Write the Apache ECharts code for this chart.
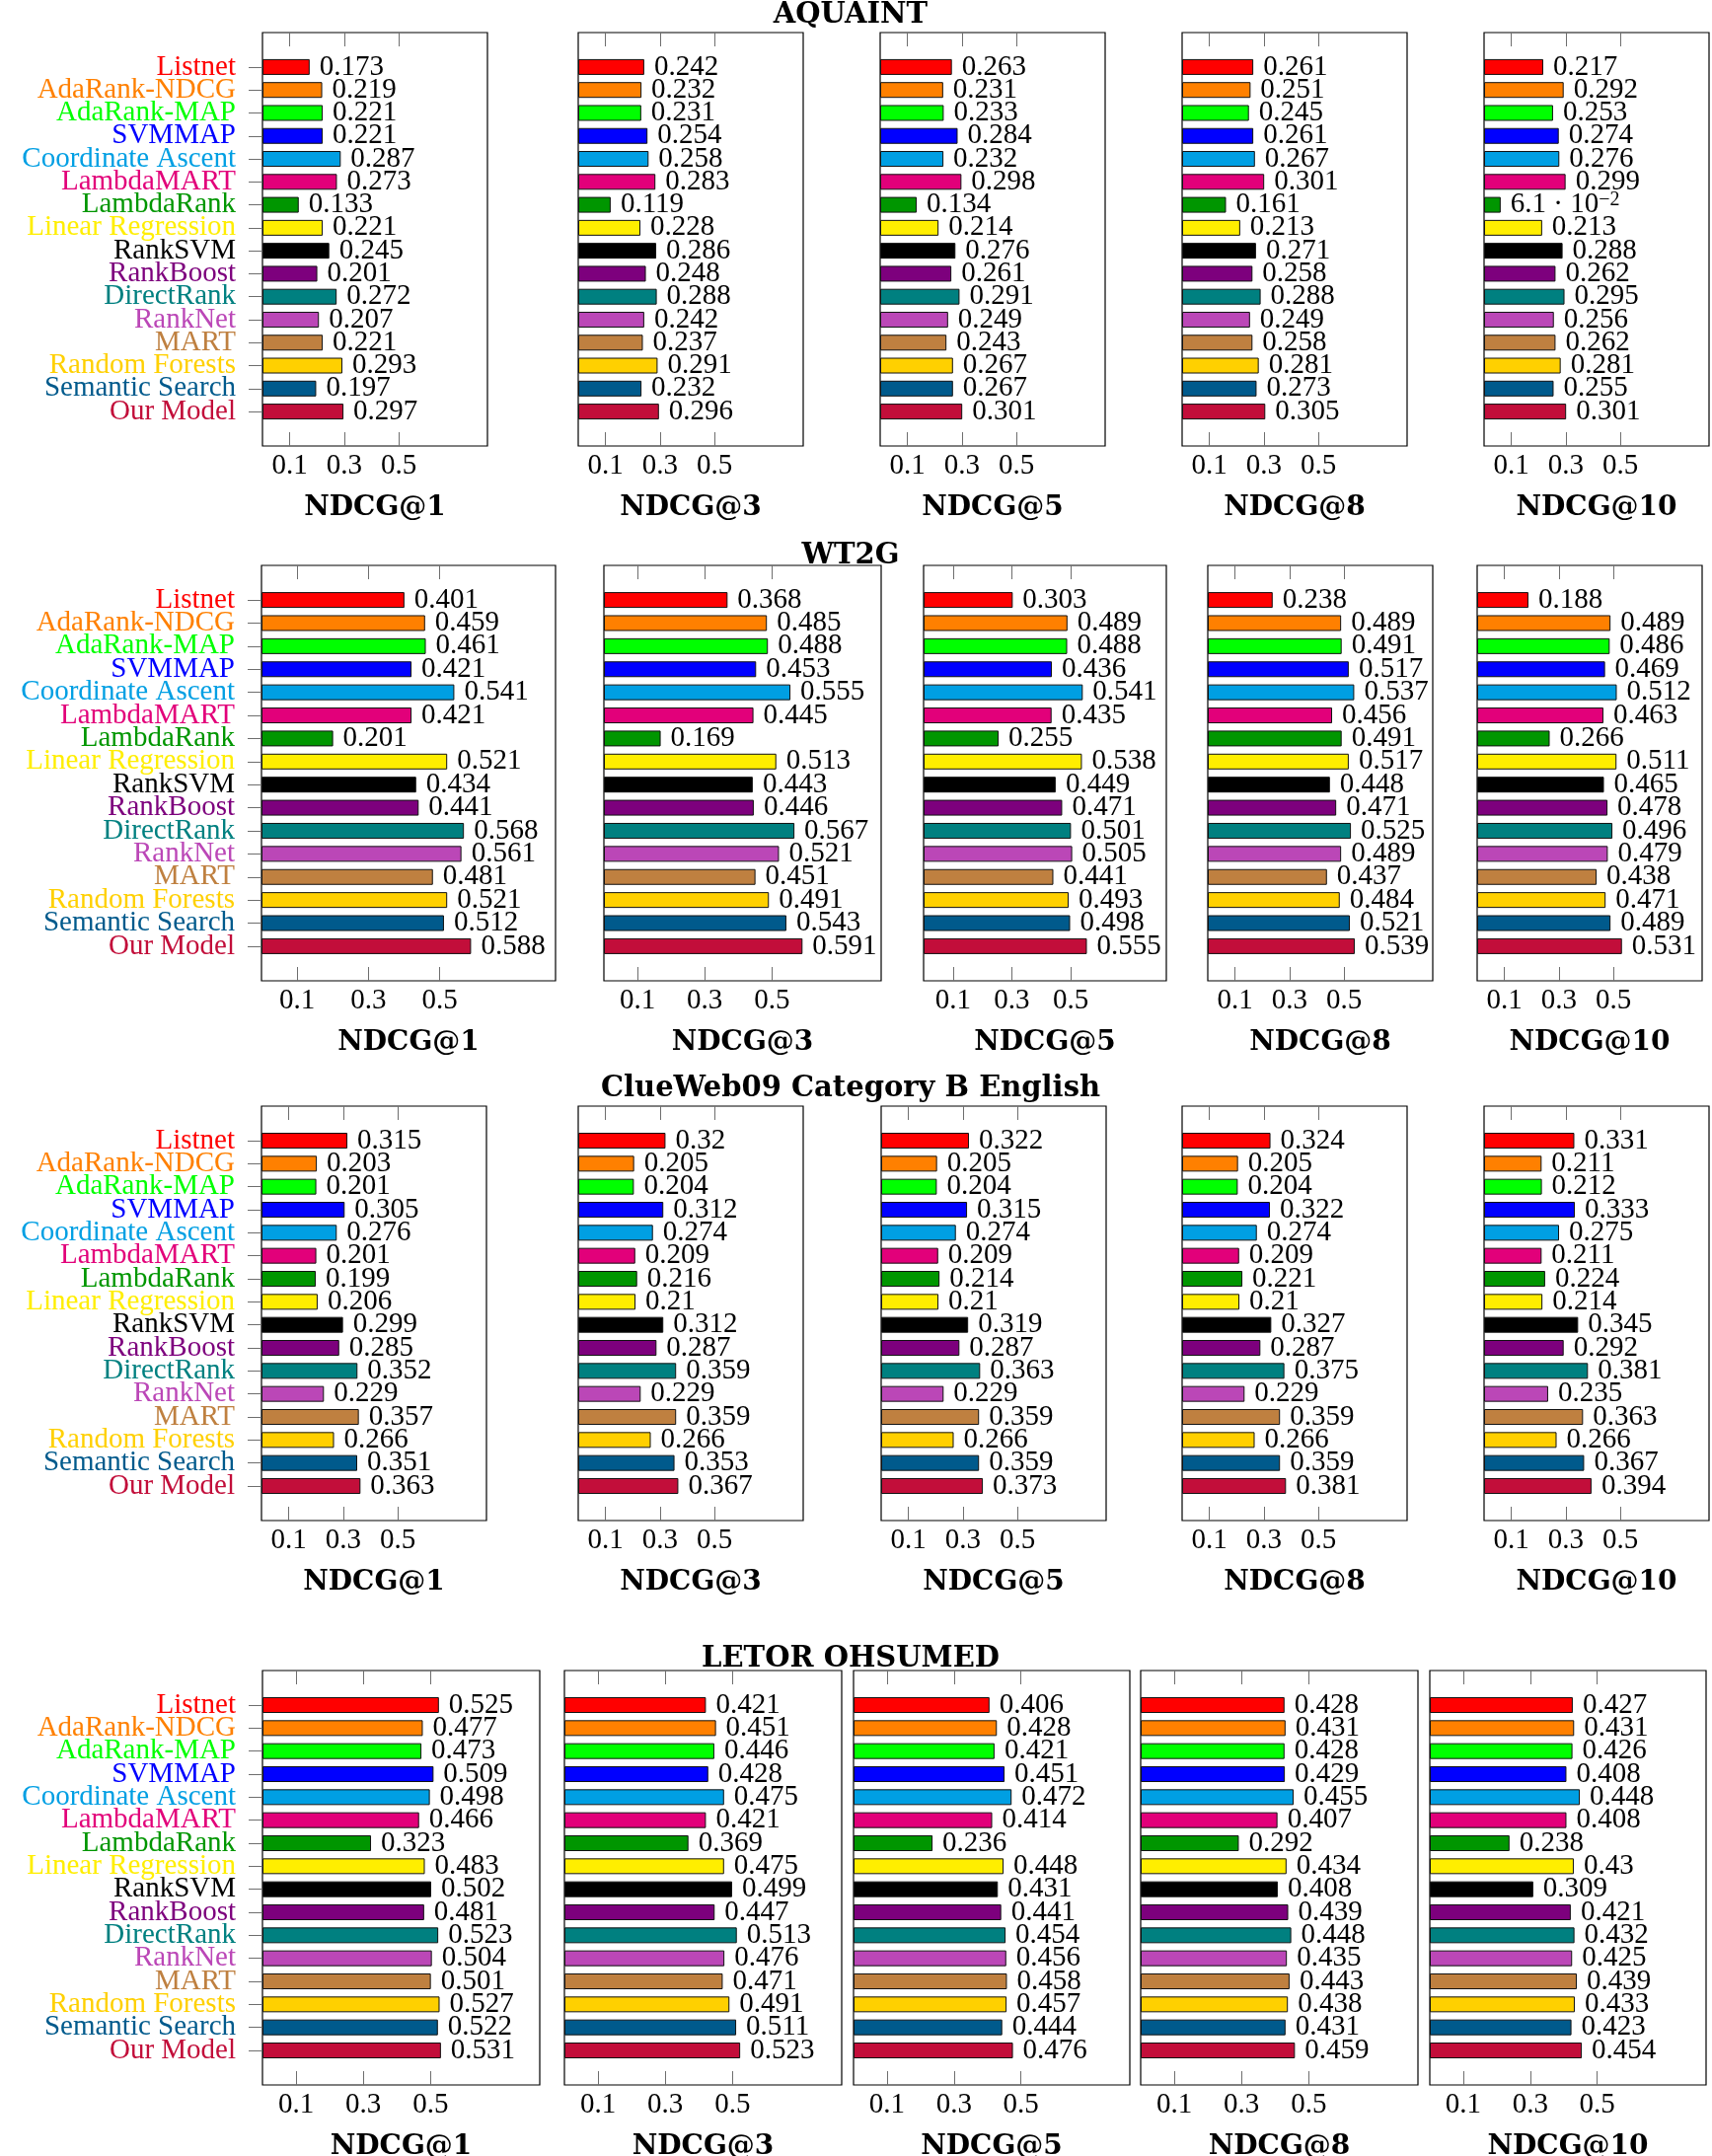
<!DOCTYPE html>
<html>
<head>
<meta charset="utf-8">
<title>NDCG comparison</title>
<script src="https://cdn.jsdelivr.net/npm/echarts@6.0.0/dist/echarts.min.js"></script>
<style>
  html, body { margin: 0; padding: 0; background: #fff; }
  #chart { width: 1735px; height: 2185px; }
</style>
</head>
<body>
<div id="chart"></div>
<script>
let categories = ['Listnet', 'AdaRank-NDCG', 'AdaRank-MAP', 'SVMMAP', 'Coordinate Ascent',
  'LambdaMART', 'LambdaRank', 'Linear Regression', 'RankSVM', 'RankBoost', 'DirectRank',
  'RankNet', 'MART', 'Random Forests', 'Semantic Search', 'Our Model'];
let metrics = ['NDCG@1', 'NDCG@3', 'NDCG@5', 'NDCG@8', 'NDCG@10'];
let datasetNames = ['AQUAINT', 'WT2G', 'ClueWeb09 Category B English', 'LETOR OHSUMED'];
let xTicks = [0.1, 0.3, 0.5];

// AQUAINT
let aquaint1 = [0.173, 0.219, 0.221, 0.221, 0.287, 0.273, 0.133, 0.221, 0.245, 0.201, 0.272, 0.207, 0.221, 0.293, 0.197, 0.297];
let aquaint3 = [0.242, 0.232, 0.231, 0.254, 0.258, 0.283, 0.119, 0.228, 0.286, 0.248, 0.288, 0.242, 0.237, 0.291, 0.232, 0.296];
let aquaint5 = [0.263, 0.231, 0.233, 0.284, 0.232, 0.298, 0.134, 0.214, 0.276, 0.261, 0.291, 0.249, 0.243, 0.267, 0.267, 0.301];
let aquaint8 = [0.261, 0.251, 0.245, 0.261, 0.267, 0.301, 0.161, 0.213, 0.271, 0.258, 0.288, 0.249, 0.258, 0.281, 0.273, 0.305];
let aquaint10 = [0.217, 0.292, 0.253, 0.274, 0.276, 0.299, 0.061, 0.213, 0.288, 0.262, 0.295, 0.256, 0.262, 0.281, 0.255, 0.301];

// WT2G
let wt2g1 = [0.401, 0.459, 0.461, 0.421, 0.541, 0.421, 0.201, 0.521, 0.434, 0.441, 0.568, 0.561, 0.481, 0.521, 0.512, 0.588];
let wt2g3 = [0.368, 0.485, 0.488, 0.453, 0.555, 0.445, 0.169, 0.513, 0.443, 0.446, 0.567, 0.521, 0.451, 0.491, 0.543, 0.591];
let wt2g5 = [0.303, 0.489, 0.488, 0.436, 0.541, 0.435, 0.255, 0.538, 0.449, 0.471, 0.501, 0.505, 0.441, 0.493, 0.498, 0.555];
let wt2g8 = [0.238, 0.489, 0.491, 0.517, 0.537, 0.456, 0.491, 0.517, 0.448, 0.471, 0.525, 0.489, 0.437, 0.484, 0.521, 0.539];
let wt2g10 = [0.188, 0.489, 0.486, 0.469, 0.512, 0.463, 0.266, 0.511, 0.465, 0.478, 0.496, 0.479, 0.438, 0.471, 0.489, 0.531];

// ClueWeb09 Category B English
let clueweb1 = [0.315, 0.203, 0.201, 0.305, 0.276, 0.201, 0.199, 0.206, 0.299, 0.285, 0.352, 0.229, 0.357, 0.266, 0.351, 0.363];
let clueweb3 = [0.32, 0.205, 0.204, 0.312, 0.274, 0.209, 0.216, 0.21, 0.312, 0.287, 0.359, 0.229, 0.359, 0.266, 0.353, 0.367];
let clueweb5 = [0.322, 0.205, 0.204, 0.315, 0.274, 0.209, 0.214, 0.21, 0.319, 0.287, 0.363, 0.229, 0.359, 0.266, 0.359, 0.373];
let clueweb8 = [0.324, 0.205, 0.204, 0.322, 0.274, 0.209, 0.221, 0.21, 0.327, 0.287, 0.375, 0.229, 0.359, 0.266, 0.359, 0.381];
let clueweb10 = [0.331, 0.211, 0.212, 0.333, 0.275, 0.211, 0.224, 0.214, 0.345, 0.292, 0.381, 0.235, 0.363, 0.266, 0.367, 0.394];

// LETOR OHSUMED
let letor1 = [0.525, 0.477, 0.473, 0.509, 0.498, 0.466, 0.323, 0.483, 0.502, 0.481, 0.523, 0.504, 0.501, 0.527, 0.522, 0.531];
let letor3 = [0.421, 0.451, 0.446, 0.428, 0.475, 0.421, 0.369, 0.475, 0.499, 0.447, 0.513, 0.476, 0.471, 0.491, 0.511, 0.523];
let letor5 = [0.406, 0.428, 0.421, 0.451, 0.472, 0.414, 0.236, 0.448, 0.431, 0.441, 0.454, 0.456, 0.458, 0.457, 0.444, 0.476];
let letor8 = [0.428, 0.431, 0.428, 0.429, 0.455, 0.407, 0.292, 0.434, 0.408, 0.439, 0.448, 0.435, 0.443, 0.438, 0.431, 0.459];
let letor10 = [0.427, 0.431, 0.426, 0.408, 0.448, 0.408, 0.238, 0.43, 0.309, 0.421, 0.432, 0.425, 0.439, 0.433, 0.423, 0.454];

let tables = [
  [aquaint1, aquaint3, aquaint5, aquaint8, aquaint10],
  [wt2g1, wt2g3, wt2g5, wt2g8, wt2g10],
  [clueweb1, clueweb3, clueweb5, clueweb8, clueweb10],
  [letor1, letor3, letor5, letor8, letor10]
];

let colors = ['#ff0000', '#ff8000', '#00ff00', '#0000ff', '#009fe3', '#e2007a', '#009600', '#ffee00',
  '#000000', '#7d007d', '#008080', '#bb47b7', '#bf8040', '#ffd000', '#005a8c', '#c20e3a'];

// frame of every panel: row top/height, title y, [left, width] per metric
let rows = [
  {top: 33, height: 419, titleY: 15, boxes: [[266, 228], [586, 228], [892, 228], [1198, 228], [1504, 228]]},
  {top: 573, height: 421, titleY: 563, boxes: [[265, 298], [612, 281], [936, 246], [1224, 228], [1497, 228]]},
  {top: 1121, height: 420, titleY: 1103, boxes: [[265, 228], [586, 228], [893, 228], [1198, 228], [1504, 228]]},
  {top: 1693, height: 420, titleY: 1681, boxes: [[266, 281], [572, 281], [865, 280], [1156, 281], [1449, 280]]}
];

let serif = 'Liberation Serif';
let boldSerif = 'DejaVu Serif';
let tickColor = '#6e6e6e';

// pgfplots prints small numbers as 6.1 · 10^-2
function valueLabel(p) {
  let v = p.value;
  if (v < 0.1) {
    let e = Math.floor(Math.log10(v));
    let m = +(v / Math.pow(10, e)).toFixed(2);
    return '{n|' + m + ' \u00b7 10}{s|' + (e < 0 ? '\u2212' + (-e) : e) + '}';
  }
  return String(v);
}

function render(div) {
  let chart = echarts.init(div, null, {renderer: 'canvas'});
  let padded = [''].concat(categories, [' ']);
  let grids = [], xAxes = [], yAxes = [], series = [], graphics = [];

  rows.forEach(function (row, r) {
    graphics.push({
      type: 'text', x: 862, y: row.titleY,
      style: {
        text: datasetNames[r], fill: '#000',
        font: 'bold 29px "' + boldSerif + '"',
        textAlign: 'center', textVerticalAlign: 'middle', align: 'center', verticalAlign: 'middle'
      }
    });
    row.boxes.forEach(function (b, c) {
      let g = grids.length;
      let first = c === 0;
      grids.push({
        left: b[0], top: row.top, width: b[1], height: row.height,
        show: true, borderColor: '#000', borderWidth: 1.2, backgroundColor: 'transparent',
        containLabel: false, outerBoundsMode: 'none'
      });
      xAxes.push({
        gridIndex: g, type: 'value', position: 'bottom', min: 0, max: 0.825,
        name: metrics[c], nameLocation: 'middle', nameGap: 49,
        nameTextStyle: {fontFamily: boldSerif, fontWeight: 'bold', fontSize: 28, color: '#000'},
        splitLine: {show: false}, axisLine: {show: false},
        axisTick: {show: true, inside: true, length: 14, customValues: xTicks, lineStyle: {color: tickColor, width: 1}},
        axisLabel: {customValues: xTicks, margin: 6, fontFamily: serif, fontSize: 29, color: '#000'}
      });
      xAxes.push({
        gridIndex: g, type: 'value', position: 'top', min: 0, max: 0.825,
        splitLine: {show: false}, axisLine: {show: false},
        axisTick: {show: true, inside: true, length: 14, customValues: xTicks, lineStyle: {color: tickColor, width: 1}},
        axisLabel: {show: false}
      });
      let catTick = {
        show: first, inside: false, length: 14, alignWithLabel: true,
        interval: function (i) { return i > 0 && i <= categories.length; },
        lineStyle: {color: tickColor, width: 1}
      };
      yAxes.push({
        gridIndex: g, type: 'category', position: 'left', inverse: true, data: padded,
        axisLine: {show: false}, splitLine: {show: false}, axisTick: catTick,
        axisLabel: {
          show: first, interval: 0, margin: 27, fontFamily: serif, fontSize: 29,
          color: function (val, i) { return colors[i - 1] || '#000'; }
        }
      });
      yAxes.push({
        gridIndex: g, type: 'category', position: 'right', inverse: true, data: padded,
        axisLine: {show: false}, splitLine: {show: false}, axisTick: catTick,
        axisLabel: {show: false}
      });
      let vals = tables[r][c];
      series.push({
        type: 'bar', xAxisIndex: 2 * g, yAxisIndex: 2 * g, barWidth: 16,
        silent: true, animation: false,
        data: ['-'].concat(vals.map(function (v, i) {
          return {value: v, itemStyle: {color: colors[i]}};
        }), ['-']),
        itemStyle: {borderColor: '#111', borderWidth: 1},
        label: {
          show: true, position: 'right', distance: 10, formatter: valueLabel,
          fontFamily: serif, fontSize: 29, color: '#000',
          rich: {
            n: {fontFamily: serif, fontSize: 29, color: '#000'},
            s: {fontFamily: serif, fontSize: 20, color: '#000', verticalAlign: 'top'}
          }
        }
      });
    });
  });

  chart.setOption({
    backgroundColor: '#fff',
    animation: false,
    grid: grids,
    xAxis: xAxes,
    yAxis: yAxes,
    series: series,
    graphic: graphics
  });
}

render(document.getElementById('chart'));
</script>
</body>
</html>
